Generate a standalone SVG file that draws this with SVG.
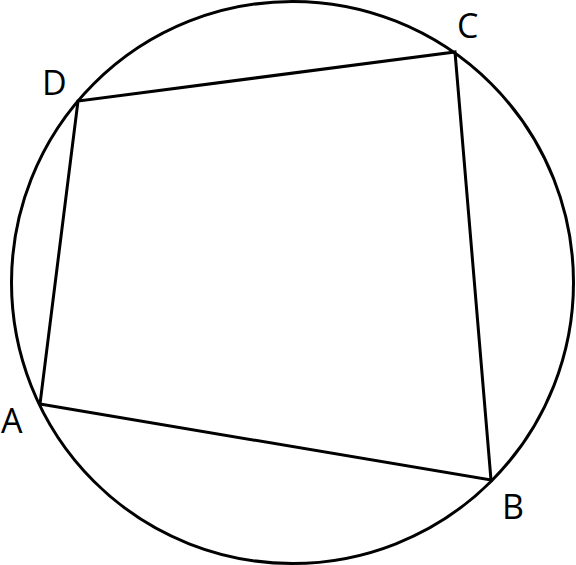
<svg xmlns="http://www.w3.org/2000/svg" width="576" height="565" viewBox="0 0 576 565">
<style>
.s{fill:none;stroke:#000;stroke-width:3;stroke-linejoin:miter}
.l{font-family:"Open Sans","Noto Sans",sans-serif;font-size:34px;fill:#000}
</style>
<rect width="576" height="565" fill="#fff"/>
<g id="circle"><circle class="s" cx="292.5" cy="282.5" r="281"/></g>
<g id="connectors">
<polygon class="s" points="40,404 491,480 455,52 78,101"/>
</g>
<g id="A"><text class="l" x="1" y="433">A</text></g>
<g id="B"><text class="l" x="502" y="519">B</text></g>
<g id="C"><text class="l" x="457" y="38">C</text></g>
<g id="D"><text class="l" x="42" y="95">D</text></g>
</svg>
